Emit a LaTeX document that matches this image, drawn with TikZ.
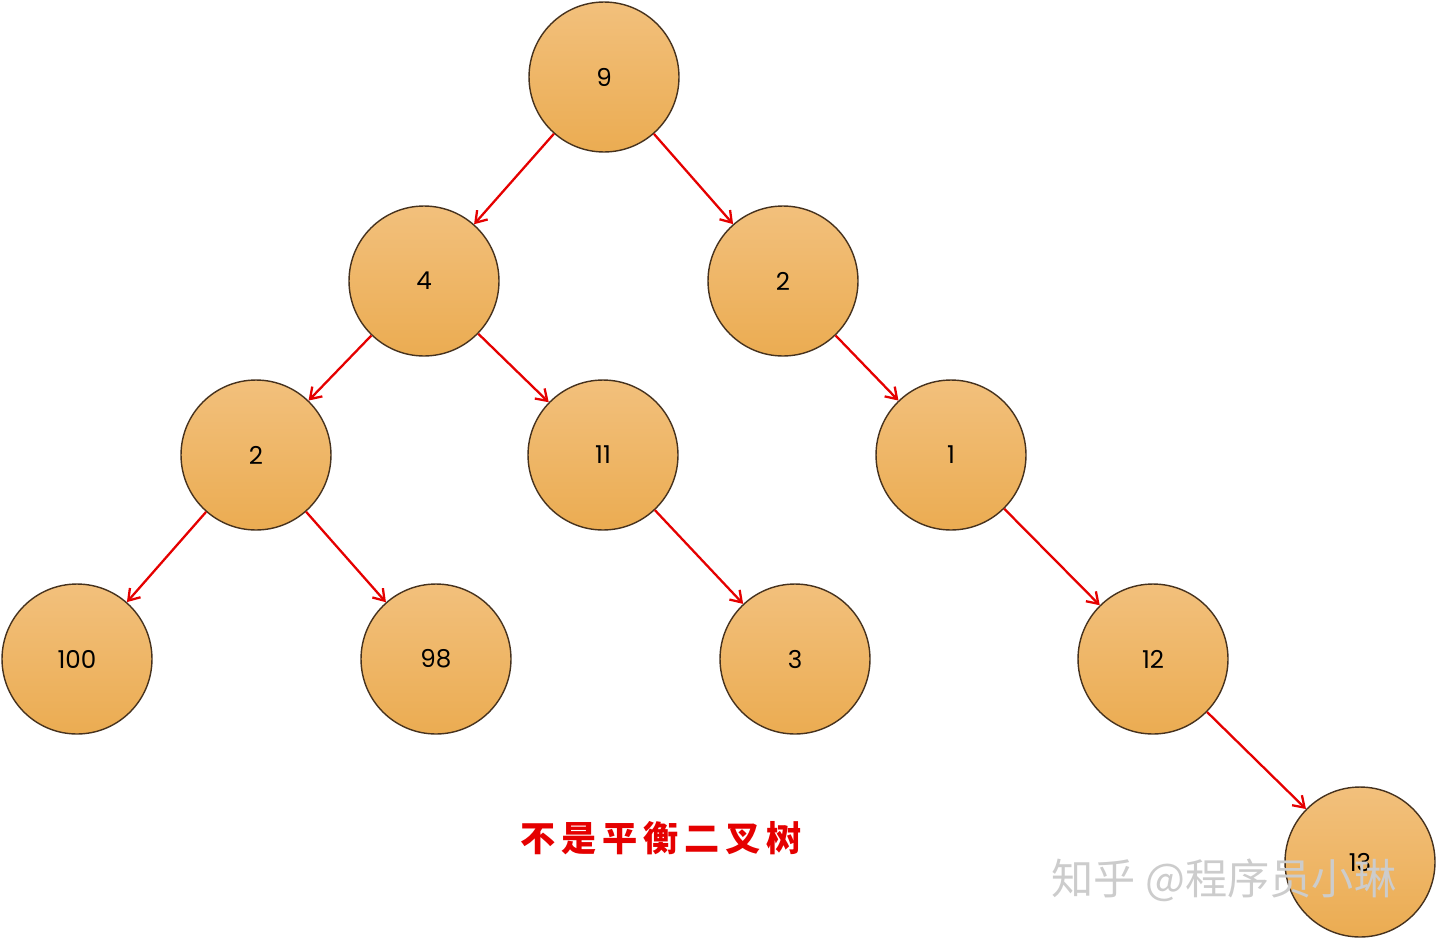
\documentclass[tikz,border=0pt]{standalone}
\usepackage{fontspec}
\usetikzlibrary{arrows.meta}
\setmainfont{Poppins}
\newfontfamily\cjk{Noto Sans CJK SC}
\definecolor{ntop}{RGB}{242,192,124}
\definecolor{nbot}{RGB}{235,172,82}
\definecolor{nline}{RGB}{70,50,30}
\begin{document}
\begin{tikzpicture}[x=0.02cm,y=-0.02cm,
  tn/.style={circle,draw=nline,line width=0.8pt,minimum size=3cm,inner sep=0pt,
    top color=ntop,bottom color=nbot,font=\fontsize{14}{16}\selectfont},
  ed/.style={-{Straight Barb[length=6pt,width=8pt]},red!90!black,line width=1.3pt}]
\useasboundingbox (0,0) rectangle (1439,940);
\node[tn] (n9) at (604,77) {9};
\node[tn] (n4) at (424,281) {4};
\node[tn] (n2) at (783,281) {2};
\node[tn] (n2b) at (256,455) {2};
\node[tn] (n11) at (603,455) {11};
\node[tn] (n1) at (951,455) {1};
\node[tn] (n100) at (77,659) {100};
\node[tn] (n98) at (436,659) {98};
\node[tn] (n3) at (795,659) {3};
\node[tn] (n12) at (1153,659) {12};
\node[tn] (n13) at (1360,862) {13};
\draw[ed] (n9) -- (n4);
\draw[ed] (n9) -- (n2);
\draw[ed] (n4) -- (n2b);
\draw[ed] (n4) -- (n11);
\draw[ed] (n2) -- (n1);
\draw[ed] (n2b) -- (n100);
\draw[ed] (n2b) -- (n98);
\draw[ed] (n11) -- (n3);
\draw[ed] (n1) -- (n12);
\draw[ed] (n12) -- (n13);
\node[text=red!90!black,font=\cjk\bfseries\fontsize{20}{22}\selectfont] (cap) at (661,838) {不\,是\,平\,衡\,二\,叉\,树};
\node[text=black!20,font=\cjk\fontsize{24}{26}\selectfont] (wm) at (1224,880) {知乎 @程序员小琳};
\end{tikzpicture}
\end{document}
